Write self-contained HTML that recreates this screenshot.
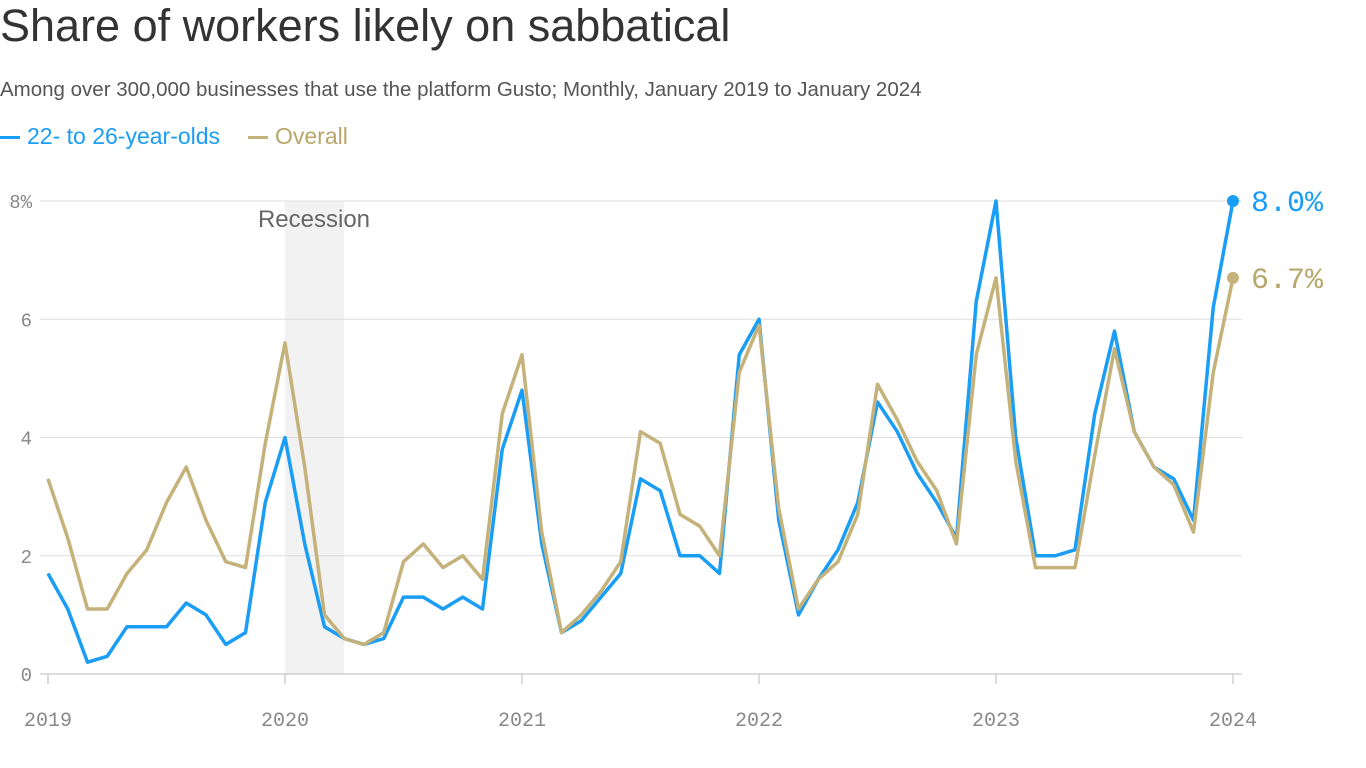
<!DOCTYPE html>
<html><head><meta charset="utf-8">
<style>
html,body{margin:0;padding:0;background:#fff;width:1366px;height:768px;overflow:hidden}
body{font-family:"Liberation Sans",sans-serif}
.t{position:absolute;left:0;top:0px;font-size:45px;color:#333}
.s{position:absolute;left:0;top:78px;font-size:20.5px;color:#555}
.l{position:absolute;top:123px;font-size:23px}
</style></head><body>
<div class="t">Share of workers likely on sabbatical</div>
<div class="s">Among over 300,000 businesses that use the platform Gusto; Monthly, January 2019 to January 2024</div>
<div class="l" style="left:0;color:#1a9df5"><span style="display:inline-block;width:20px;height:3px;background:#1a9df5;vertical-align:middle;margin-right:7px"></span>22- to 26-year-olds</div>
<div class="l" style="left:248px;color:#b8a66b"><span style="display:inline-block;width:20px;height:3px;background:#c4b27a;vertical-align:middle;margin-right:7px"></span>Overall</div>
<svg id="c" width="1366" height="768" style="position:absolute;left:0;top:0"></svg>
<script>
var b=[1.7,1.1,0.2,0.3,0.8,0.8,0.8,1.2,1.0,0.5,0.7,2.9,
4.0,2.2,0.8,0.6,0.5,0.6,1.3,1.3,1.1,1.3,1.1,3.8,
4.8,2.2,0.7,0.9,1.3,1.7,3.3,3.1,2.0,2.0,1.7,5.4,
6.0,2.6,1.0,1.6,2.1,2.9,4.6,4.1,3.4,2.9,2.3,6.3,
8.0,4.0,2.0,2.0,2.1,4.4,5.8,4.1,3.5,3.3,2.6,6.2,8.0];
var g=[3.3,2.3,1.1,1.1,1.7,2.1,2.9,3.5,2.6,1.9,1.8,3.9,
5.6,3.5,1.0,0.6,0.5,0.7,1.9,2.2,1.8,2.0,1.6,4.4,
5.4,2.4,0.7,1.0,1.4,1.9,4.1,3.9,2.7,2.5,2.0,5.1,
5.9,2.8,1.1,1.6,1.9,2.7,4.9,4.3,3.6,3.1,2.2,5.4,
6.7,3.6,1.8,1.8,1.8,3.7,5.5,4.1,3.5,3.2,2.4,5.1,6.7];
function X(i){return 48+i*1185/60}function Y(v){return 674-v*59.125}
var s='<rect x="285" y="201" width="59" height="473" fill="#f2f2f2"/>';
s+='<text x="314" y="227" text-anchor="middle" font-size="24" fill="#666" font-family="Liberation Sans">Recession</text>';
for(var k=0;k<=8;k+=2){var y=Y(k);s+='<line x1="40" x2="1242" y1="'+y+'" y2="'+y+'" stroke="'+(k==0?'#bbb':'#ddd')+'" stroke-width="1"/>';
s+='<text x="32" y="'+(y+7)+'" text-anchor="end" font-size="19" fill="#888" font-family="Liberation Mono">'+(k==8?'8%':k)+'</text>';}
for(var yr=0;yr<=5;yr++){var x=X(yr*12);s+='<line x1="'+x+'" x2="'+x+'" y1="674" y2="684" stroke="#bbb"/>';
s+='<text x="'+x+'" y="726" text-anchor="middle" font-size="20" fill="#888" font-family="Liberation Mono">'+(2019+yr)+'</text>';}
function pl(d,c){return '<polyline fill="none" stroke="'+c+'" stroke-width="3.5" stroke-linejoin="round" points="'+d.map(function(v,i){return X(i)+','+Y(v)}).join(' ')+'"/>';}
s+=pl(b,'#1a9df5')+pl(g,'#c4b27a');
s+='<circle cx="1233" cy="'+Y(8)+'" r="6" fill="#1a9df5"/><circle cx="1233" cy="'+Y(6.7)+'" r="6" fill="#c4b27a"/>';
s+='<text x="1251" y="'+(Y(8)+10)+'" font-size="30" fill="#1a9df5" font-family="Liberation Mono">8.0%</text>';
s+='<text x="1251" y="'+(Y(6.7)+10)+'" font-size="30" fill="#b8a66b" font-family="Liberation Mono">6.7%</text>';
document.getElementById('c').innerHTML=s;
</script>
</body></html>
